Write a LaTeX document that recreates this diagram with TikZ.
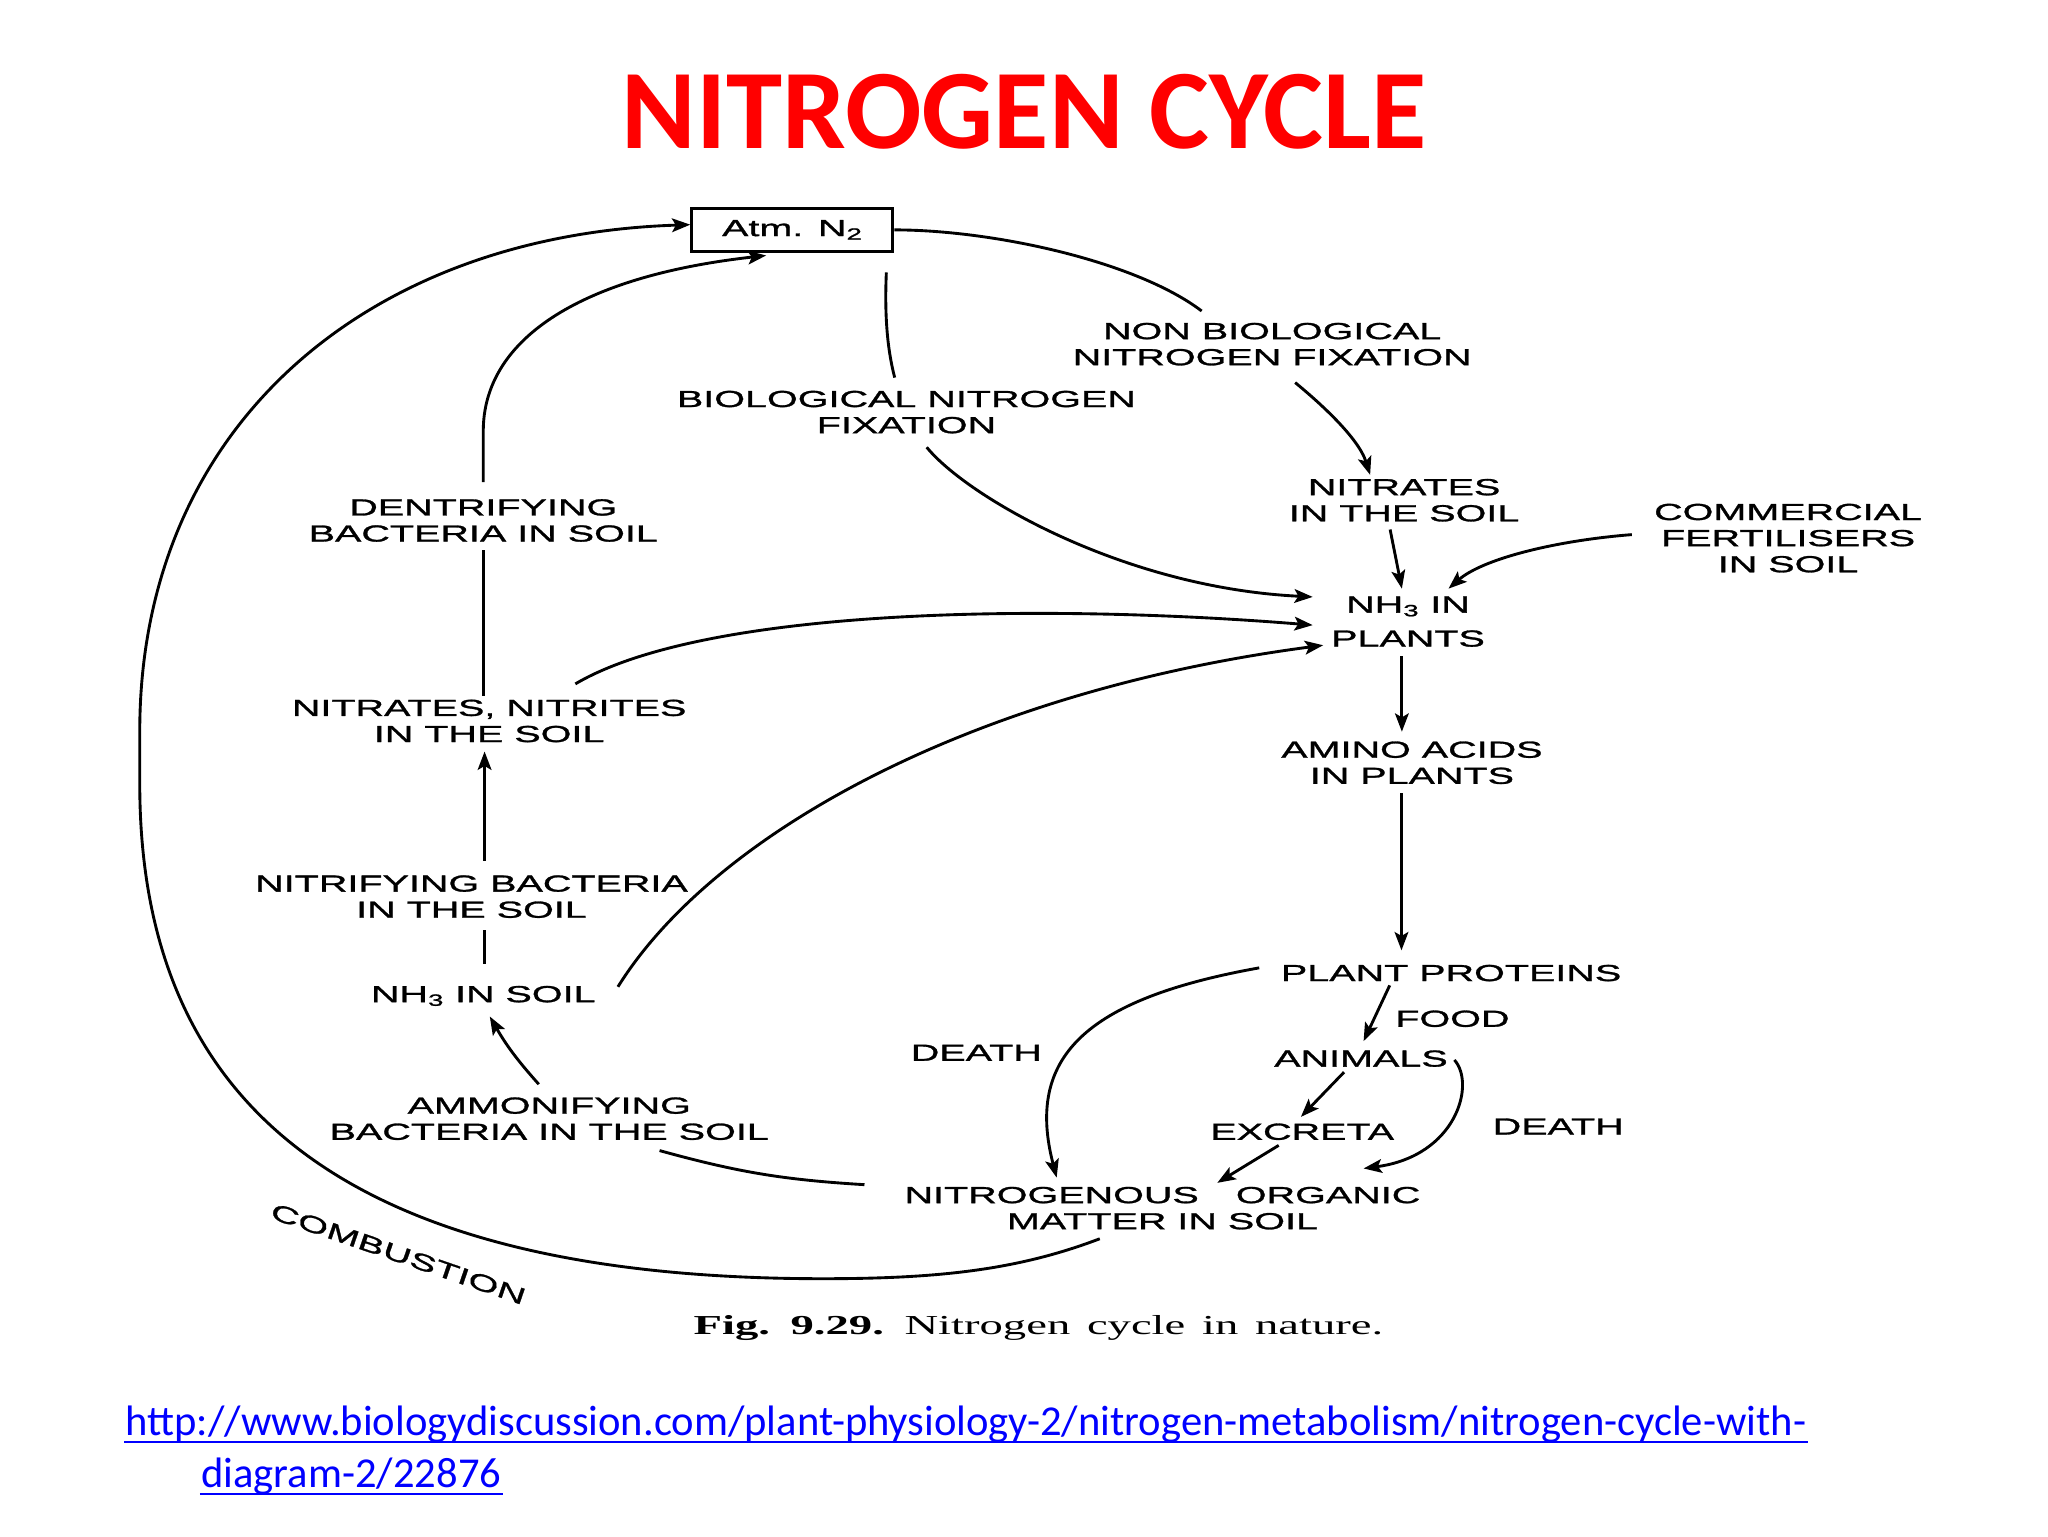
\documentclass[tikz,border=0pt]{standalone}
\usepackage{fontspec}
\usetikzlibrary{arrows.meta,calc}
\newfontfamily\diagfont[FakeStretch=1.7,FakeBold=1.2]{Liberation Sans}
\newfontfamily\figcapfont[FakeStretch=1.7]{Liberation Serif}
\newfontfamily\carlito{Carlito}
\definecolor{urlblue}{RGB}{0,0,255}
\definecolor{titlered}{RGB}{255,0,0}
\begin{document}
\begin{tikzpicture}[x=1pt,y=-1pt,line width=2.2pt,
  lbl/.style={font={\diagfont\fontsize{17.8}{20}\selectfont}, align=center, inner sep=2pt},
  con/.style={draw, line width=2.2pt},
  arr/.style={draw, line width=2.2pt, -{Stealth[length=14pt,width=10.5pt,inset=3pt]}}]
\useasboundingbox (0,0) rectangle (1568,1176);
\fill[white] (0,0) rectangle (1568,1176);

% title
\node[text=titlered, font={\carlito\bfseries\fontsize{86.7}{90}\selectfont}, anchor=base, inner sep=0] (title) at (784,114) {NITROGEN CYCLE};

% nodes
\node[lbl, draw, minimum width=154pt, minimum height=33pt] (atm) at (606.6,176) {Atm. N\textsubscript{2}};
\node[lbl] (nbl) at (974,263.5) {NON BIOLOGICAL\\NITROGEN FIXATION};
\node[lbl] (bnf) at (694,315.5) {BIOLOGICAL NITROGEN\\FIXATION};
\node[lbl] (nis) at (1075,383) {NITRATES\\IN THE SOIL};
\node[lbl] (cf) at (1369,412) {COMMERCIAL\\FERTILISERS\\IN SOIL};
\node[lbl] (nhp) at (1078,476) {NH\textsubscript{3} IN\\[6pt]PLANTS};
\node[lbl] (aa) at (1081,584) {AMINO ACIDS\\IN PLANTS};
\node[lbl] (pp) at (1111,745) {PLANT PROTEINS};
\node[lbl] (food) at (1112,780) {FOOD};
\node[lbl] (ani) at (1042,810.5) {ANIMALS};
\node[lbl] (ex) at (997,866.5) {EXCRETA};
\node[lbl] (dr) at (1193,862.5) {DEATH};
\node[lbl] (dl) at (747.5,806) {DEATH};
\node[lbl] (nom) at (890,925) {NITROGENOUS\hspace{20pt} ORGANIC\\MATTER IN SOIL};
\node[lbl] (am) at (420.5,856.5) {AMMONIFYING\\BACTERIA IN THE SOIL};
\node[lbl] (nhs) at (370,762.5) {NH\textsubscript{3} IN SOIL};
\node[lbl] (nb) at (361,686.5) {NITRIFYING BACTERIA\\IN THE SOIL};
\node[lbl] (nnit) at (374.5,552) {NITRATES, NITRITES\\IN THE SOIL};
\node[lbl] (den) at (370,398.5) {DENTRIFYING\\BACTERIA IN SOIL};
\node[lbl, rotate=-19, inner sep=0] (comb) at (305,960) {COMBUSTION};

% caption
\node[font={\figcapfont\fontsize{21}{24}\selectfont}, anchor=base west, inner sep=0] (figcap) at (530,1022) {\spaceskip=12.8pt \textbf{Fig. 9.29.} Nitrogen cycle in nature.};

% url
\node[font={\carlito\fontsize{32.6}{40}\selectfont}, text=urlblue, anchor=base west, inner sep=0] (url1) at (95,1099) {http://www.biologydiscussion.com/plant-physiology-2/nitrogen-metabolism/nitrogen-cycle-with-};
\node[font={\carlito\fontsize{32.6}{40}\selectfont}, text=urlblue, anchor=base west, inner sep=0] (url2) at (153,1139) {diagram-2/22876};
\draw[urlblue, line width=1.8pt] ($(url1.base west)+(0,5)$) -- ($(url1.base east)+(0,5)$);
\draw[urlblue, line width=1.8pt] ($(url2.base west)+(0,5)$) -- ($(url2.base east)+(0,5)$);

% combustion loop
\draw[arr] ($(nom.south)+(-48,4)$) .. controls (780,972) and (720,979) .. (630,979)
  .. controls (264,979) and (107,846) .. (107,600)
  -- (107,560) .. controls (107,327) and (280,180) .. ($(atm.west)+(0,-4)$);

% denitrification
\draw[con] (nnit.north -| den.south) -- ($(den.south)+(0,3)$);
\draw[arr] ($(den.north)+(0,-10)$) -- (370,330) .. controls (370,262) and (440,212) .. ($(atm.south)+(-20,2)$);

% biological fixation
\draw[con] ($(atm.south)+(72,15)$) .. controls (677,245) and (680,270) .. ($(bnf.north)+(-9,-7)$);
\draw[arr] ($(bnf.south)+(15.5,7.5)$) .. controls (740,380) and (860,450) .. ($(nhp.west)+(-11,-19)$);

% non biological fixation
\draw[con] (atm.east) .. controls (760,176) and (870,200) .. ($(nbl.north)+(-54,-6)$);
\draw[arr] ($(nbl.south)+(17.6,10)$) .. controls (1010,308) and (1040,335) .. ($(nis.north)+(-26,0)$);

% into NH3 in plants
\draw[arr] ($(nis.south)+(-10.7,3)$) .. controls (1068,424) .. ($(nhp.north)+(-4.7,-3)$);
\draw[arr] ($(cf.west)+(-14,-2.7)$) .. controls (1190,414) and (1135,428) .. ($(nhp.north)+(31,-3)$);
\draw[arr] ($(nnit.north)+(66,-9)$) .. controls (540,465) and (800,462) .. ($(nhp.west)+(-11,2.6)$);
\draw[arr] ($(nhs.east)+(14,-7)$) .. controls (545,640) and (740,530) .. ($(nhp.west)+(-3,18)$);

% main chain
\draw[arr] ($(nhp.south)+(-4.7,4)$) -- ($(aa.north)+(-7.7,-4.4)$);
\draw[arr] ($(aa.south)+(-8,4)$) -- ($(pp.north)+(-38,-8)$);
\draw[arr] ($(pp.south)+(-47,0)$) -- ($(ani.north)+(2,-4)$);
\draw[arr] ($(pp.west)+(-13.5,-4)$) .. controls (830,765) and (785,810) .. ($(nom.north)+(-81,-4)$);
\draw[arr] ($(ani.south)+(-13,1)$) -- ($(ex.north)+(-1,-2)$);
\draw[arr] ($(ex.south)+(-18,1)$) -- ($(nom.north)+(42,0)$);
\draw[arr] ($(ani.east)+(2,1)$) .. controls (1130,830) and (1115,885) .. ($(nom.north)+(154,-11)$);

% ammonification and nitrification
\draw[con] ($(am.south)+(84.5,5)$) to[bend right=6] ($(nom.west)+(-27.6,-18)$);
\draw[arr] ($(am.north)+(-8,-7)$) to[bend left=6] ($(nhs.south)+(5,5)$);
\draw[con] ($(nhs.north)+(1,-14)$) -- ($(nb.south -| nhs.north)+(1,6)$);
\draw[arr] ($(nb.north -| nhs.north)+(1,-8)$) -- ($(nnit.south -| nhs.north)+(1,4)$);
\end{tikzpicture}
\end{document}
